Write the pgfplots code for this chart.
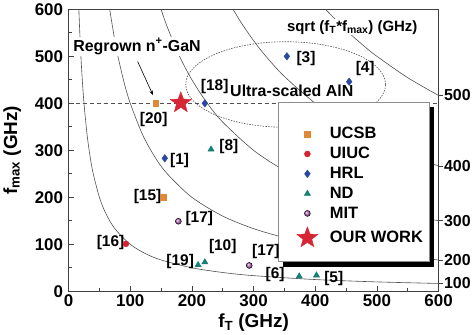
\documentclass[border=0pt]{standalone}
\usepackage{pgfplots}
\pgfplotsset{compat=1.18}
\usepackage{fontspec}
\setmainfont{Liberation Sans}
\usetikzlibrary{arrows.meta}
\definecolor{cucsb}{RGB}{222,136,58}
\definecolor{cuiuc}{RGB}{212,36,52}
\definecolor{chrl}{RGB}{42,72,160}
\definecolor{cnd}{RGB}{22,128,118}
\definecolor{cmit}{RGB}{195,105,195}
\definecolor{cstar}{RGB}{214,38,54}
\definecolor{cline}{RGB}{80,80,80}
\pgfdeclareplotmark{fstar}{%
  \pgfpathmoveto{\pgfpointpolar{90}{\pgfplotmarksize}}%
  \pgfpathlineto{\pgfpointpolar{126}{0.42\pgfplotmarksize}}%
  \pgfpathlineto{\pgfpointpolar{162}{\pgfplotmarksize}}%
  \pgfpathlineto{\pgfpointpolar{198}{0.42\pgfplotmarksize}}%
  \pgfpathlineto{\pgfpointpolar{234}{\pgfplotmarksize}}%
  \pgfpathlineto{\pgfpointpolar{270}{0.42\pgfplotmarksize}}%
  \pgfpathlineto{\pgfpointpolar{306}{\pgfplotmarksize}}%
  \pgfpathlineto{\pgfpointpolar{342}{0.42\pgfplotmarksize}}%
  \pgfpathlineto{\pgfpointpolar{18}{\pgfplotmarksize}}%
  \pgfpathlineto{\pgfpointpolar{54}{0.42\pgfplotmarksize}}%
  \pgfpathclose\pgfusepathqfillstroke}
\newcommand{\lab}{\bfseries\fontsize{15.5}{17}\selectfont}
\newcommand{\ann}{\bfseries\fontsize{16}{18}\selectfont}
\begin{document}
\begin{tikzpicture}
\begin{axis}[
  scale only axis, width=370bp, height=282bp,
  xmin=0, xmax=600, ymin=0, ymax=600,
  xtick={0,100,...,600}, ytick={0,100,...,600},
  minor tick num=1,
  xtick pos=bottom, ytick pos=left, tick align=inside,
  major tick length=5bp, minor tick length=3bp,
  axis line style={black!75, line width=0.8bp},
  tick style={black!75, line width=0.7bp},
  /pgf/number format/assume math mode=true,
  tick label style={font=\bfseries\fontsize{17}{19}\selectfont},
  yticklabel style={xshift=-2bp},
  xlabel={f\textsubscript{T} (GHz)},
  ylabel={f\textsubscript{max} (GHz)},
  label style={font=\bfseries\fontsize{19}{21}\selectfont},
  xlabel style={yshift=0bp},
  ylabel style={yshift=7bp},
  legend style={draw=none, fill=none, at={(axis cs:370,349)}, anchor=north west,
    font=\bfseries\fontsize{16.5}{18}\selectfont, row sep=7bp, inner sep=0pt,
    nodes={inner sep=0pt},
    /tikz/every odd column/.append style={column sep=12bp}},
  legend cell align=left,
]
% contour curves sqrt(fT*fmax) = const
\addplot[cline, line width=0.6bp, smooth, forget plot] coordinates {
 (16.67,600) (18,555.6) (20,500) (22,454.5) (25,400) (30,333.3) (35,285.7) (40,250) (50,200) (60,166.7) (75,133.3) (100,100) (125,80) (150,66.7) (200,50) (250,40) (300,33.3) (400,25) (500,20) (600,16.67)};
\addplot[cline, line width=0.6bp, smooth, forget plot] coordinates {
 (66.67,600) (75,533.3) (80,500) (90,444.4) (100,400) (120,333.3) (140,285.7) (160,250) (200,200) (250,160) (300,133.3) (350,114.3) (400,100) (450,88.9) (500,80) (600,66.67)};
\addplot[cline, line width=0.6bp, smooth, forget plot] coordinates {
 (150,600) (160,562.5) (180,500) (200,450) (225,400) (250,360) (300,300) (350,257.1) (400,225) (450,200) (500,180) (550,163.6) (600,150)};
\addplot[cline, line width=0.6bp, smooth, forget plot] coordinates {
 (266.67,600) (280,571.4) (300,533.3) (320,500) (350,457.1) (400,400) (450,355.6) (500,320) (550,290.9) (600,266.67)};
\addplot[cline, line width=0.6bp, smooth, forget plot] coordinates {
 (416.67,600) (450,555.6) (480,520.8) (500,500) (550,454.5) (600,416.67)};
% dashed line at 400 GHz
\addplot[cline, line width=0.7bp, dash pattern=on 4bp off 3bp, forget plot] coordinates {(0,400) (600,400)};
% ellipse
\draw[cline, line width=0.6bp, dash pattern=on 1.5bp off 1.2bp] (axis cs:352,440) ellipse [x radius=162, y radius=91];
% legend box with shadow
\fill[black] (axis cs:348,393) rectangle (axis cs:592,51);
\filldraw[fill=white, draw=black!45, line width=0.6bp] (axis cs:340.5,402) rectangle (axis cs:585,63);
% text annotations
\node[font=\bfseries\fontsize{15}{17}\selectfont, fill=white, inner sep=1bp] at (axis cs:460,562) {sqrt (f\textsubscript{T}*f\textsubscript{max}) (GHz)};
\node[font=\ann, fill=white, inner sep=1bp] at (axis cs:111,521) {Regrown n\textsuperscript{+}-GaN};
\draw[-{Stealth[length=5bp,width=3.5bp]}, line width=0.6bp] (axis cs:112,489) -- (axis cs:137,417);
\node[font=\ann, inner sep=0pt] at (axis cs:362,426) {Ultra-scaled AlN};
\node[font=\lab] at (axis cs:138,366) {[20]};
\node[font=\lab] at (axis cs:237,436) {[18]};
\node[font=\lab] at (axis cs:180,279) {[1]};
\node[font=\lab] at (axis cs:260,308) {[8]};
\node[font=\lab] at (axis cs:385,496) {[3]};
\node[font=\lab] at (axis cs:481,474) {[4]};
\node[font=\lab] at (axis cs:128,202) {[15]};
\node[font=\lab] at (axis cs:212,155) {[17]};
\node[font=\lab] at (axis cs:68,104) {[16]};
\node[font=\lab] at (axis cs:250,96) {[10]};
\node[font=\lab] at (axis cs:181,64) {[19]};
\node[font=\lab] at (axis cs:320,85) {[17]};
\node[font=\lab] at (axis cs:335,36) {[6]};
\node[font=\lab] at (axis cs:430,28) {[5]};
% data
\addplot[only marks, mark=square*, mark size=2.8bp, draw=cucsb, fill=cucsb] coordinates {(141,400) (153,200)};
\addlegendentry{UCSB}
\addplot[only marks, mark=*, mark size=3bp, draw=cuiuc, fill=cuiuc] coordinates {(93,101)};
\addlegendentry{UIUC}
\addplot[only marks, mark=diamond*, mark size=3.8bp, draw=chrl, fill=chrl] coordinates {(156,283) (221,400) (354,500) (455,446)};
\addlegendentry{HRL}
\addplot[only marks, mark=triangle*, mark size=3.6bp, draw=cnd, fill=cnd] coordinates {(231,302) (210,56) (221,62) (374,32) (402,34)};
\addlegendentry{ND}
\addplot[only marks, mark=ball, mark size=3bp, ball color=cmit] coordinates {(178,149) (293,55)};
\addlegendentry{MIT}
\addplot[only marks, mark=fstar, mark size=11bp, draw=cstar, fill=cstar] coordinates {(182,401)};
\addlegendentry{OUR WORK}
\end{axis}
\begin{axis}[
  scale only axis, width=370bp, height=282bp,
  xmin=0, xmax=600, ymin=0, ymax=600,
  axis x line=none, axis y line*=right,
  axis line style={draw=none},
  ytick={16.67,66.67,150,266.67,416.67},
  yticklabels={100,200,300,400,500},
  tick align=outside, major tick length=4bp,
  tick style={black!75, line width=0.7bp},
  /pgf/number format/assume math mode=true,
  tick label style={font=\bfseries\fontsize{16}{18}\selectfont},
  yticklabel style={xshift=-2bp},
]
\end{axis}
\end{tikzpicture}
\end{document}
